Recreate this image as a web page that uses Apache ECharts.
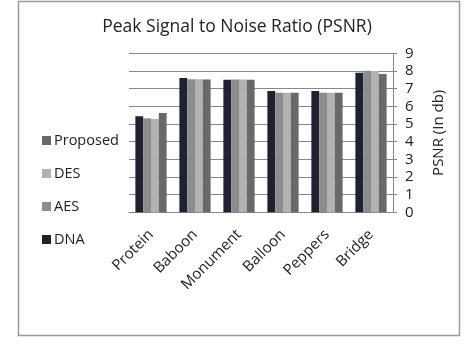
<!DOCTYPE html>
<html><head><meta charset="utf-8">
<script src="https://cdn.jsdelivr.net/npm/echarts@6/dist/echarts.min.js"></script>
<style>html,body{margin:0;padding:0;background:#fff}#c{width:474px;height:354px}</style>
</head><body><div id="c"></div>
<script>
var categories = ['Protein','Baboon','Monument','Balloon','Peppers','Bridge'];
var dna      = [5.43, 7.60, 7.50, 6.86, 6.86, 7.90];
var aes      = [5.32, 7.53, 7.52, 6.77, 6.77, 8.01];
var des      = [5.28, 7.53, 7.52, 6.77, 6.77, 8.00];
var proposed = [5.62, 7.51, 7.50, 6.77, 6.77, 7.83];
var yTicks = [0,1,2,3,4,5,6,7,8,9];

var font = '"Open Sans", sans-serif';
var chart = echarts.init(document.getElementById('c'), null, {renderer:'canvas'});
function s(name, data, color){
  return {name:name, type:'bar', data:data, barGap:'0%', barCategoryGap:'29%',
    itemStyle:{color:color}, animation:false};
}
chart.setOption({
  backgroundColor:'#fff',
  animation:false,
  title:{text:'Peak Signal to Noise Ratio (PSNR)', left:'center', top:13,
    textStyle:{fontFamily:font, fontSize:17.5, fontWeight:'normal', color:'#222'}},
  graphic:[{type:'rect', shape:{x:18.5, y:1.5, width:441, height:334},
    style:{fill:'none', stroke:'#9a9a9a', lineWidth:1.5}, silent:true}],
  legend:{orient:'vertical', left:37, top:128, itemGap:18, itemWidth:9, itemHeight:9,
    icon:'rect', data:['Proposed','DES','AES','DNA'],
    textStyle:{fontFamily:font, fontSize:14.5, color:'#222', padding:[0,0,0,-2]}},
  grid:{left:129, right:81, top:53.3, bottom:141.7, containLabel:false},
  xAxis:{type:'category', data:categories,
    axisLine:{lineStyle:{color:'#888'}}, axisTick:{show:false},
    axisLabel:{rotate:45, fontFamily:font, fontSize:15, color:'#222', margin:20, interval:0}},
  yAxis:{type:'value', position:'right', min:0, max:9, interval:1,
    name:'PSNR (In db)', nameLocation:'middle', nameRotate:90, nameGap:38,
    nameTextStyle:{fontFamily:font, fontSize:15, color:'#222'},
    axisLine:{show:true, lineStyle:{color:'#888'}},
    axisTick:{show:true, length:4, lineStyle:{color:'#888'}},
    splitLine:{show:true, lineStyle:{color:'#888', width:1}},
    axisLabel:{fontFamily:font, fontSize:15, color:'#222', margin:12,
      formatter:function(v){return yTicks.indexOf(v)>=0?String(v):'';}}},
  series:[
    s('DNA', dna, '#1e2130'),
    s('AES', aes, '#8c8c8c'),
    s('DES', des, '#b2b2b2'),
    s('Proposed', proposed, '#696969')
  ]
});
</script></body></html>
